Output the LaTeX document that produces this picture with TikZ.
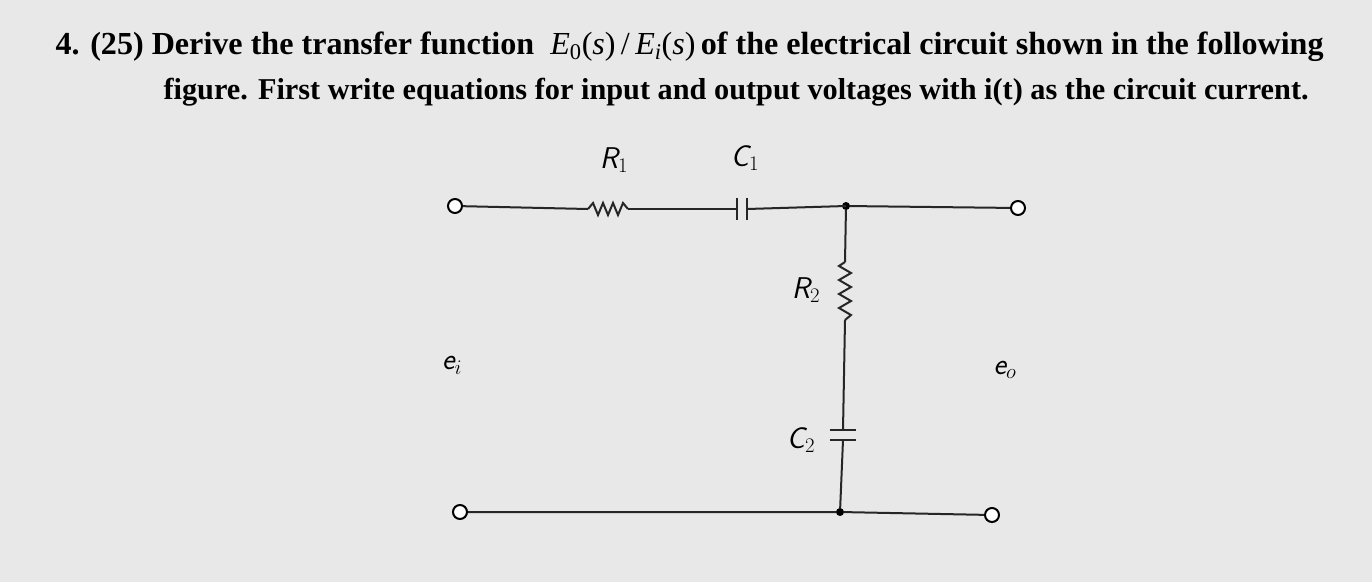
\documentclass[tikz,border=0pt]{standalone}
\usepackage{fontspec}
\setmainfont{Liberation Serif}
\usepackage{graphicx}
\begin{document}
\begin{tikzpicture}[x=1pt,y=-1pt,
  wire/.style={line width=2pt,black!85},
  term/.style={circle,draw,line width=2pt,fill=white,minimum size=14pt,inner sep=0pt},
  dot/.style={circle,fill=black,minimum size=8pt,inner sep=0pt},
  lbl/.style={font=\fontsize{30}{32}\selectfont\itshape\sffamily}]
\fill[black!9] (0,0) rectangle (1372,582);
\useasboundingbox (0,0) rectangle (1372,582);
\node[anchor=west,font=\bfseries\fontsize{28}{32}\selectfont] (t1) at (52,47)
  {\resizebox{1268pt}{!}{4. (25) Derive the transfer function \ \textmd{\textit{E}\textsubscript{0}(\textit{s})\,/\,\textit{E\textsubscript{i}}(\textit{s})}\,of the electrical circuit shown in the following}};
\node[anchor=west,font=\bfseries\fontsize{28}{32}\selectfont] (t2) at (160,92)
  {\resizebox{1145pt}{!}{figure. First write equations for input and output voltages with i(t) as the circuit current.}};
% nodes
\node[term] (a) at (455,206) {};
\node[term] (b) at (1018,208) {};
\node[term] (c) at (460,512) {};
\node[term] (d) at (992,515) {};
\node[dot] (j1) at (846,206) {};
\node[dot] (j2) at (840,512) {};
\coordinate (r1a) at (588,209);
\coordinate (r1b) at (628,209);
\coordinate (c1a) at (737,209);
\coordinate (c1b) at (747,209);
\coordinate (r2a) at (845,262);
\coordinate (r2b) at (845,320);
\coordinate (c2a) at (843,430);
\coordinate (c2b) at (843,440);
% wires
\draw[wire] (a) -- (r1a);
\draw[wire] (r1a) -- ++(5,-6) -- ++(5,12) -- ++(5,-12) -- ++(5,12) -- ++(5,-12) -- ++(5,12) -- ++(5,-12) -- (r1b);
\draw[wire] (r1b) -- (c1a);
\draw[wire] (c1a) ++(0,-11) -- ++(0,22);
\draw[wire] (c1b) ++(0,-11) -- ++(0,22);
\draw[wire] (c1b) -- (846,206) -- (j1);
\draw[wire] (j1) -- (b);
\draw[wire] (j1) -- (r2a);
\draw[wire] (r2a) -- ++(-6,4) -- ++(12,7) -- ++(-12,7) -- ++(12,7) -- ++(-12,7) -- ++(12,7) -- ++(-12,7) -- ++(12,7) -- (r2b);
\draw[wire] (r2b) -- (c2a);
\draw[wire] (c2a) ++(-13,0) -- ++(26,0);
\draw[wire] (c2b) ++(-13,0) -- ++(26,0);
\draw[wire] (c2b) -- (j2);
\draw[wire] (c) -- (j2) -- (d);
% labels
\node[lbl] (lr1) at (614,160) {R$_1$};
\node[lbl] (lc1) at (745,158) {C$_1$};
\node[lbl] (lr2) at (806,290) {R$_2$};
\node[lbl] (lc2) at (801,440) {C$_2$};
\node[lbl] (lei) at (452,365) {e$_i$};
\node[lbl] (leo) at (1005,370) {e$_o$};
\end{tikzpicture}
\end{document}
